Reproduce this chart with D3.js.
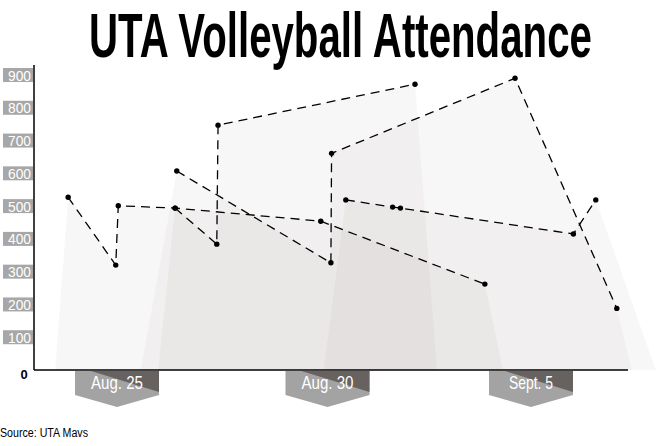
<!DOCTYPE html>
<html>
<head>
<meta charset="utf-8">
<script src="https://cdn.jsdelivr.net/npm/d3@7"></script>
<style>
  body { margin: 0; background: #fff; }
  svg { display: block; }
</style>
</head>
<body>
<div id="chart"></div>
<script>
// attendance per home game, x = day (Aug. 32 = Sept. 1)
let seriesA_days = [23.84, 24.97, 25.03, 26.38, 29.84, 34.64];
let seriesA_vals = [527, 320, 501, 494, 454, 262];
let seriesB_days = [26.42, 30.10, 30.12, 35.53, 38.53];
let seriesB_vals = [607, 327, 661, 890, 188];
let seriesC_days = [26.38, 27.37, 27.40, 32.58];
let seriesC_vals = [494, 384, 747, 872];
let seriesD_days = [30.54, 31.92, 32.15, 37.25, 37.91];
let seriesD_vals = [519, 497, 494, 415, 519];

let xTickDays = [25, 30, 36];
let xTickLabels = ["Aug. 25", "Aug. 30", "Sept. 5"];
let yTicks = [100, 200, 300, 400, 500, 600, 700, 800, 900];

// how far each shaded block leans out at the bottom (left, right)
let lean = [[13, 18], [36, 15], [17, 22], [22, 60]];

const W = 665, H = 446;

let svg = d3.select("#chart")
  .append("svg")
  .attr("width", W)
  .attr("height", H);

let x = d3.scaleLinear()
  .domain(xTickDays)
  .range([117, 327.5, 531]);

let y = d3.scaleLinear()
  .domain([0, 900])
  .range([370, 75]);

let series = [
  d3.zip(seriesA_days, seriesA_vals),
  d3.zip(seriesB_days, seriesB_vals),
  d3.zip(seriesC_days, seriesC_vals),
  d3.zip(seriesD_days, seriesD_vals)
];

/* ------------------ Title ------------------ */
// squeeze the title to the condensed width of the original
let title = svg.append("text")
  .attr("x", 0)
  .attr("y", 0)
  .style("font-family", "'Liberation Sans', Arial, sans-serif")
  .style("font-weight", "bold")
  .style("font-size", "63px")
  .style("fill", "#000")
  .text("UTA Volleyball Attendance");
let tw = title.node().getComputedTextLength();
title.attr("transform", "translate(89,57) scale(" + (503 / tw) + ",1)");

/* ------------------ Shaded blocks ------------------ */
let plot = svg.append("g");

series.forEach((s, i) => {
  let pts = s.map(d => [x(d[0]), y(d[1])]);
  let first = pts[0], last = pts[pts.length - 1];
  let poly = [[first[0] - lean[i][0], y(0)]].concat(pts, [[last[0] + lean[i][1], y(0)]]);
  plot.append("path")
    .attr("d", "M" + poly.join("L") + "Z")
    .style("fill", "#6e6565")
    .style("fill-opacity", 0.05);
});

/* ------------------ Axes ------------------ */
svg.append("line")
  .attr("x1", 34).attr("x2", 34)
  .attr("y1", 65).attr("y2", y(0))
  .style("stroke", "#000")
  .style("stroke-width", 1.5);

svg.append("line")
  .attr("x1", 34).attr("x2", 628)
  .attr("y1", y(0)).attr("y2", y(0))
  .style("stroke", "#000")
  .style("stroke-width", 1.5);

let yt = svg.selectAll(".ytick")
  .data(yTicks)
  .enter()
  .append("g")
  .attr("class", "ytick")
  .attr("transform", d => "translate(0," + y(d) + ")");

yt.append("rect")
  .attr("x", 3)
  .attr("y", -7)
  .attr("width", 30)
  .attr("height", 14)
  .style("fill", "#a7a7a7");

yt.append("text")
  .attr("x", 31)
  .attr("y", 5.5)
  .attr("text-anchor", "end")
  .attr("textLength", 23)
  .attr("lengthAdjust", "spacingAndGlyphs")
  .style("font-family", "'Liberation Sans', Arial, sans-serif")
  .style("font-size", "15px")
  .style("fill", "#fff")
  .text(d => d);

svg.append("text")
  .attr("x", 24)
  .attr("y", y(0) + 9)
  .attr("text-anchor", "middle")
  .style("font-family", "'Liberation Sans', Arial, sans-serif")
  .style("font-weight", "bold")
  .style("font-size", "13px")
  .style("fill", "#000")
  .text("0");

// ribbon labels under the axis
let xt = svg.selectAll(".xtick")
  .data(xTickDays)
  .enter()
  .append("g")
  .attr("class", "xtick")
  .attr("transform", d => "translate(" + x(d) + "," + (y(0) + 1) + ")");

xt.append("path")
  .attr("d", "M-42,0L42,0L42,24L0,36L-42,24Z")
  .style("fill", "#a3a3a3");

xt.append("path")
  .attr("d", "M-26,0L42,0L42,21Z")
  .style("fill", "#67625f");

xt.append("text")
  .attr("x", 0)
  .attr("y", 18)
  .attr("text-anchor", "middle")
  .attr("textLength", (d, i) => i == 2 ? 44 : 52)
  .attr("lengthAdjust", "spacingAndGlyphs")
  .style("font-family", "'Liberation Sans', Arial, sans-serif")
  .style("font-size", "18px")
  .style("fill", "#fff")
  .text((d, i) => xTickLabels[i]);

/* ------------------ Lines + dots ------------------ */
let line = d3.line()
  .x(d => x(d[0]))
  .y(d => y(d[1]));

series.forEach(s => {
  plot.append("path")
    .datum(s)
    .attr("d", line)
    .style("fill", "none")
    .style("stroke", "#000")
    .style("stroke-width", 1.3)
    .style("stroke-dasharray", "9,6");
});

series.forEach(s => {
  plot.selectAll(null)
    .data(s)
    .enter()
    .append("circle")
    .attr("cx", d => x(d[0]))
    .attr("cy", d => y(d[1]))
    .attr("r", 2.7)
    .style("fill", "#000");
});

/* ------------------ Source ------------------ */
svg.append("text")
  .attr("x", 0)
  .attr("y", 437)
  .attr("textLength", 88)
  .attr("lengthAdjust", "spacingAndGlyphs")
  .style("font-family", "'Liberation Sans', Arial, sans-serif")
  .style("font-size", "12px")
  .style("fill", "#000")
  .text("Source: UTA Mavs");
</script>
</body>
</html>
